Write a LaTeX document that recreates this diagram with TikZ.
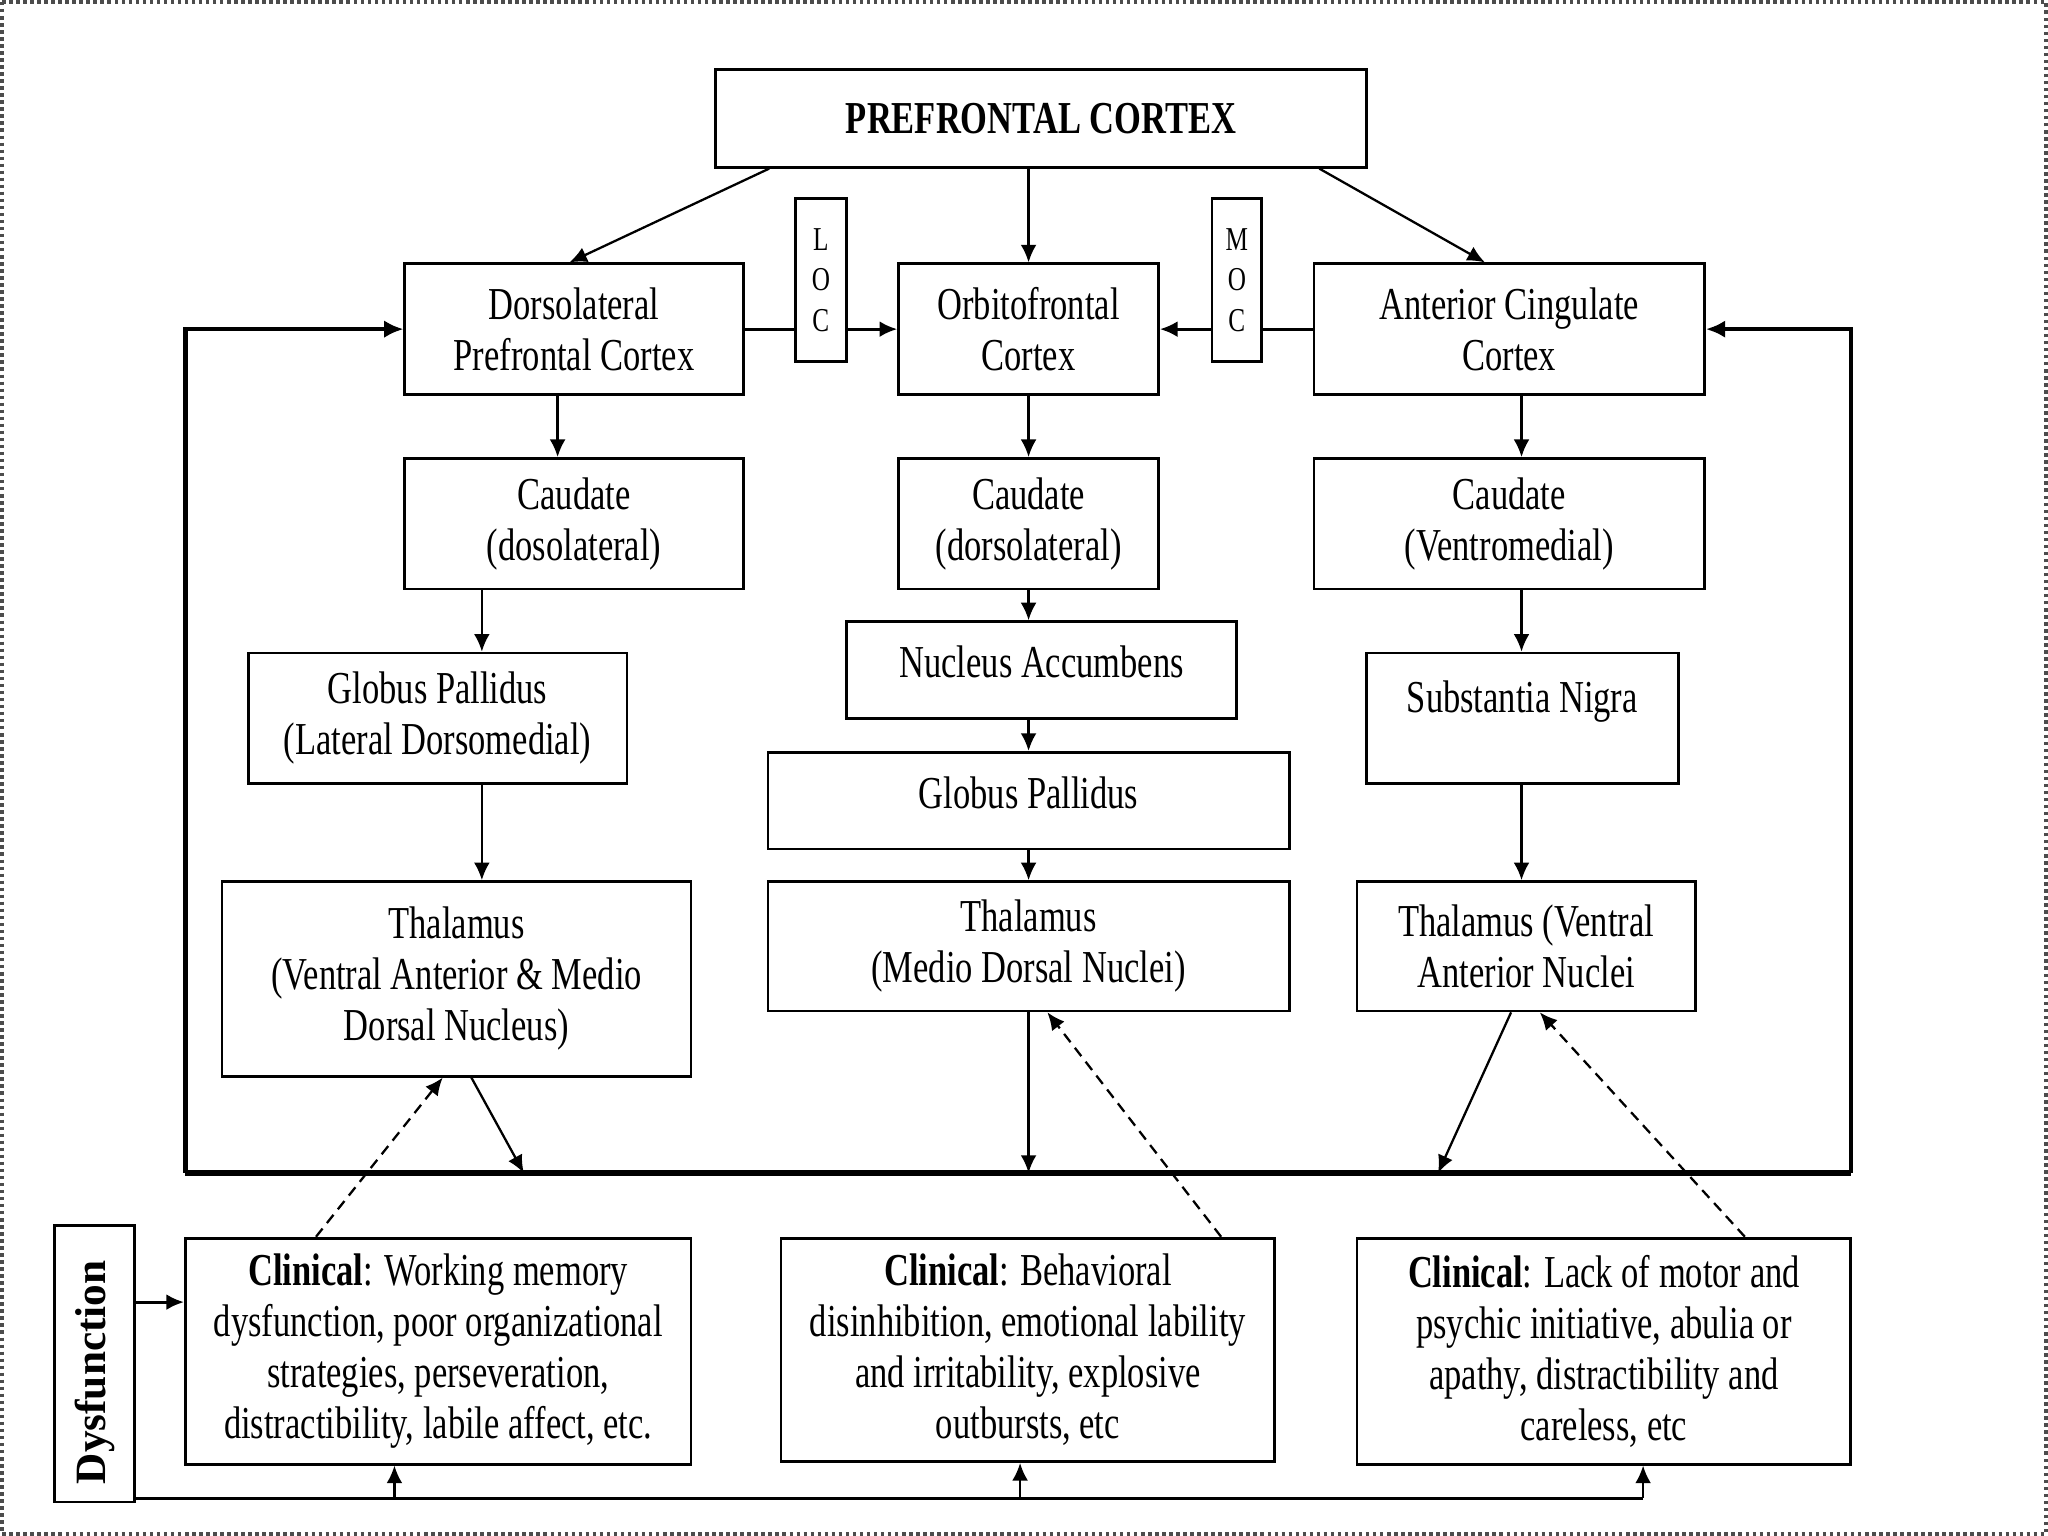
\documentclass[tikz,border=0pt]{standalone}
\usepackage{fontspec}
\usepackage{graphicx}
\setmainfont{Liberation Serif}[FakeStretch=0.755]
\newfontfamily\dysfont{Liberation Serif}
\usetikzlibrary{arrows.meta,calc}
% \bx[extra style]{name}{x1}{y1}{x2}{y2}{text}
\newcommand\bx[7][]{\node[box,#1,minimum width={(#5-#3)*0.013061cm},minimum height={(#6-#4)*0.013061cm}] (#2) at ({(#3+#5)/2},{(#4+#6)/2}) {#7};}
\begin{document}
\begin{tikzpicture}[x=0.013061cm,y=-0.013061cm,
  box/.style={draw, line width=0.8pt, inner sep=0pt, align=center, font=\fontsize{13}{14.5}\selectfont},
  smallbox/.style={font=\fontsize{9.5}{11.5}\selectfont},
  arr/.style={-{Latex[length=5pt,width=4.5pt]}, line width=0.65pt},
  plainline/.style={line width=0.8pt},
  bigline/.style={line width=1.3pt},
  dsh/.style={arr, dash pattern=on 3pt off 2pt}]
\useasboundingbox (0,0) rectangle (1568,1176);
\draw[densely dotted, line width=1pt, black!70] (1.5,1.5) rectangle (1566.5,1174.5);

% boxes
\bx{pfc}{548}{53}{1046}{128}{\textbf{PREFRONTAL CORTEX}}
\bx[smallbox]{loc}{609}{152}{648}{277}{L\\O\\C}
\bx[smallbox]{moc}{928}{152}{966}{277}{M\\O\\C}
\bx{dl}{310}{202}{569}{302}{Dorsolateral\\Prefrontal Cortex}
\bx{of}{688}{202}{887}{302}{Orbitofrontal\\Cortex}
\bx{ac}{1006}{202}{1305}{302}{Anterior Cingulate\\Cortex}
\bx{cd1}{310}{351}{569}{451}{Caudate\\(dosolateral)}
\bx{cd2}{688}{351}{887}{451}{Caudate\\(dorsolateral)}
\bx{cd3}{1006}{351}{1305}{451}{Caudate\\(Ventromedial)}
\bx{gp1}{190}{500}{480}{600}{Globus Pallidus\\(Lateral Dorsomedial)}
\bx{na}{648}{476}{947}{550}{\raisebox{4.5pt}{Nucleus Accumbens}}
\bx{gp2}{588}{576}{987}{650}{\raisebox{4.5pt}{Globus Pallidus}}
\bx{sn}{1046}{500}{1285}{600}{\raisebox{12.6pt}{Substantia Nigra}}
\bx{th1}{170}{675}{529}{824}{Thalamus\\(Ventral Anterior \& Medio\\Dorsal Nucleus)}
\bx{th2}{588}{675}{987}{774}{Thalamus\\(Medio Dorsal Nuclei)}
\bx{th3}{1039}{675}{1298}{774}{Thalamus (Ventral\\Anterior Nuclei}
\bx{cl1}{142}{948}{529}{1121}{\textbf{Clinical}: Working memory\\dysfunction, poor organizational\\strategies, perseveration,\\distractibility, labile affect, etc.}
\bx{cl2}{598}{948}{976}{1119}{\textbf{Clinical}: Behavioral\\disinhibition, emotional lability\\and irritability, explosive\\outbursts, etc}
\bx{cl3}{1039}{948}{1417}{1121}{\textbf{Clinical}: Lack of motor and\\psychic initiative, abulia or\\apathy, distractibility and\\careless, etc}
\bx[font=\dysfont\bfseries\fontsize{12.3}{14}\selectfont]{dys}{42}{938}{103}{1150}{\rotatebox{90}{Dysfunction\hspace{5pt}}}

% prefrontal to cortices
\draw[arr] ($(pfc.south west)+(42,0)$) -- ($(dl.north west)+(127,0)$);
\draw[arr] (of.north |- pfc.south) -- (of.north);
\draw[arr] ($(pfc.south east)+(-37,0)$) -- ($(ac.north west)+(132,0)$);

% LOC / MOC
\draw[plainline] (dl.east) -- (loc.west |- dl.east);
\draw[arr, line width=0.8pt] (loc.east |- dl.east) -- (of.west);
\draw[plainline] (ac.west) -- (moc.east |- ac.west);
\draw[arr, line width=0.8pt] (moc.west |- ac.west) -- (of.east);

% left column
\draw[arr] ($(dl.south west)+(118,0)$) -- ($(cd1.north west)+(118,0)$);
\draw[arr] ($(cd1.south west)+(60,0)$) -- ($(gp1.north west)+(180,0)$);
\draw[arr] ($(gp1.south west)+(180,0)$) -- ($(th1.north west)+(200,0)$);
% middle column
\draw[arr] (of.south) -- (cd2.north);
\draw[arr] (cd2.south) -- (cd2.south |- na.north);
\draw[arr] (cd2.south |- na.south) -- (cd2.south |- gp2.north);
\draw[arr] (gp2.south) -- (th2.north);
% right column
\draw[arr] ($(ac.south west)+(160,0)$) -- ($(cd3.north west)+(160,0)$);
\draw[arr] ($(cd3.south west)+(160,0)$) -- ($(sn.north west)+(120,0)$);
\draw[arr] ($(sn.south west)+(120,0)$) -- ($(th3.north west)+(127,0)$);

% feedback loop
\coordinate (lb) at (142,898);
\coordinate (rb) at (1417,898);
\draw[bigline, line width=1.6pt] (lb) -- (rb);
\draw[bigline, -{Latex[length=5.5pt,width=5pt]}] (lb) -- (lb |- dl.west) -- (dl.west);
\draw[bigline, -{Latex[length=5.5pt,width=5pt]}] (rb) -- (rb |- ac.east) -- (ac.east);
\draw[arr] ($(th1.south west)+(192,0)$) -- ($(lb)+(259,0)$);
\draw[arr] (th2.south) -- (th2.south |- lb);
\draw[arr] ($(th3.south west)+(119,0)$) -- ($(lb)+(959,0)$);

% dashed clinical links
\draw[dsh] ($(cl1.north west)+(101,0)$) -- ($(th1.south west)+(170,0)$);
\draw[dsh] ($(cl2.north west)+(338,0)$) -- ($(th2.south west)+(215,0)$);
\draw[dsh] ($(cl3.north west)+(298,0)$) -- ($(th3.south west)+(141,0)$);

% dysfunction links
\draw[arr, line width=0.9pt] ($(dys.north east)+(0,60)$) -- ($(cl1.north west)+(0,50)$);
\coordinate (bb) at (103,1147);
\coordinate (a1) at (302,1147);
\coordinate (a2) at (781,1147);
\coordinate (be) at (1258,1147);
\draw[line width=0.9pt] (bb) -- (be);
\draw[arr] (a1) -- (a1 |- cl1.south);
\draw[arr] (a2) -- (a2 |- cl2.south);
\draw[arr] (be) -- (be |- cl3.south);
\end{tikzpicture}
\end{document}
